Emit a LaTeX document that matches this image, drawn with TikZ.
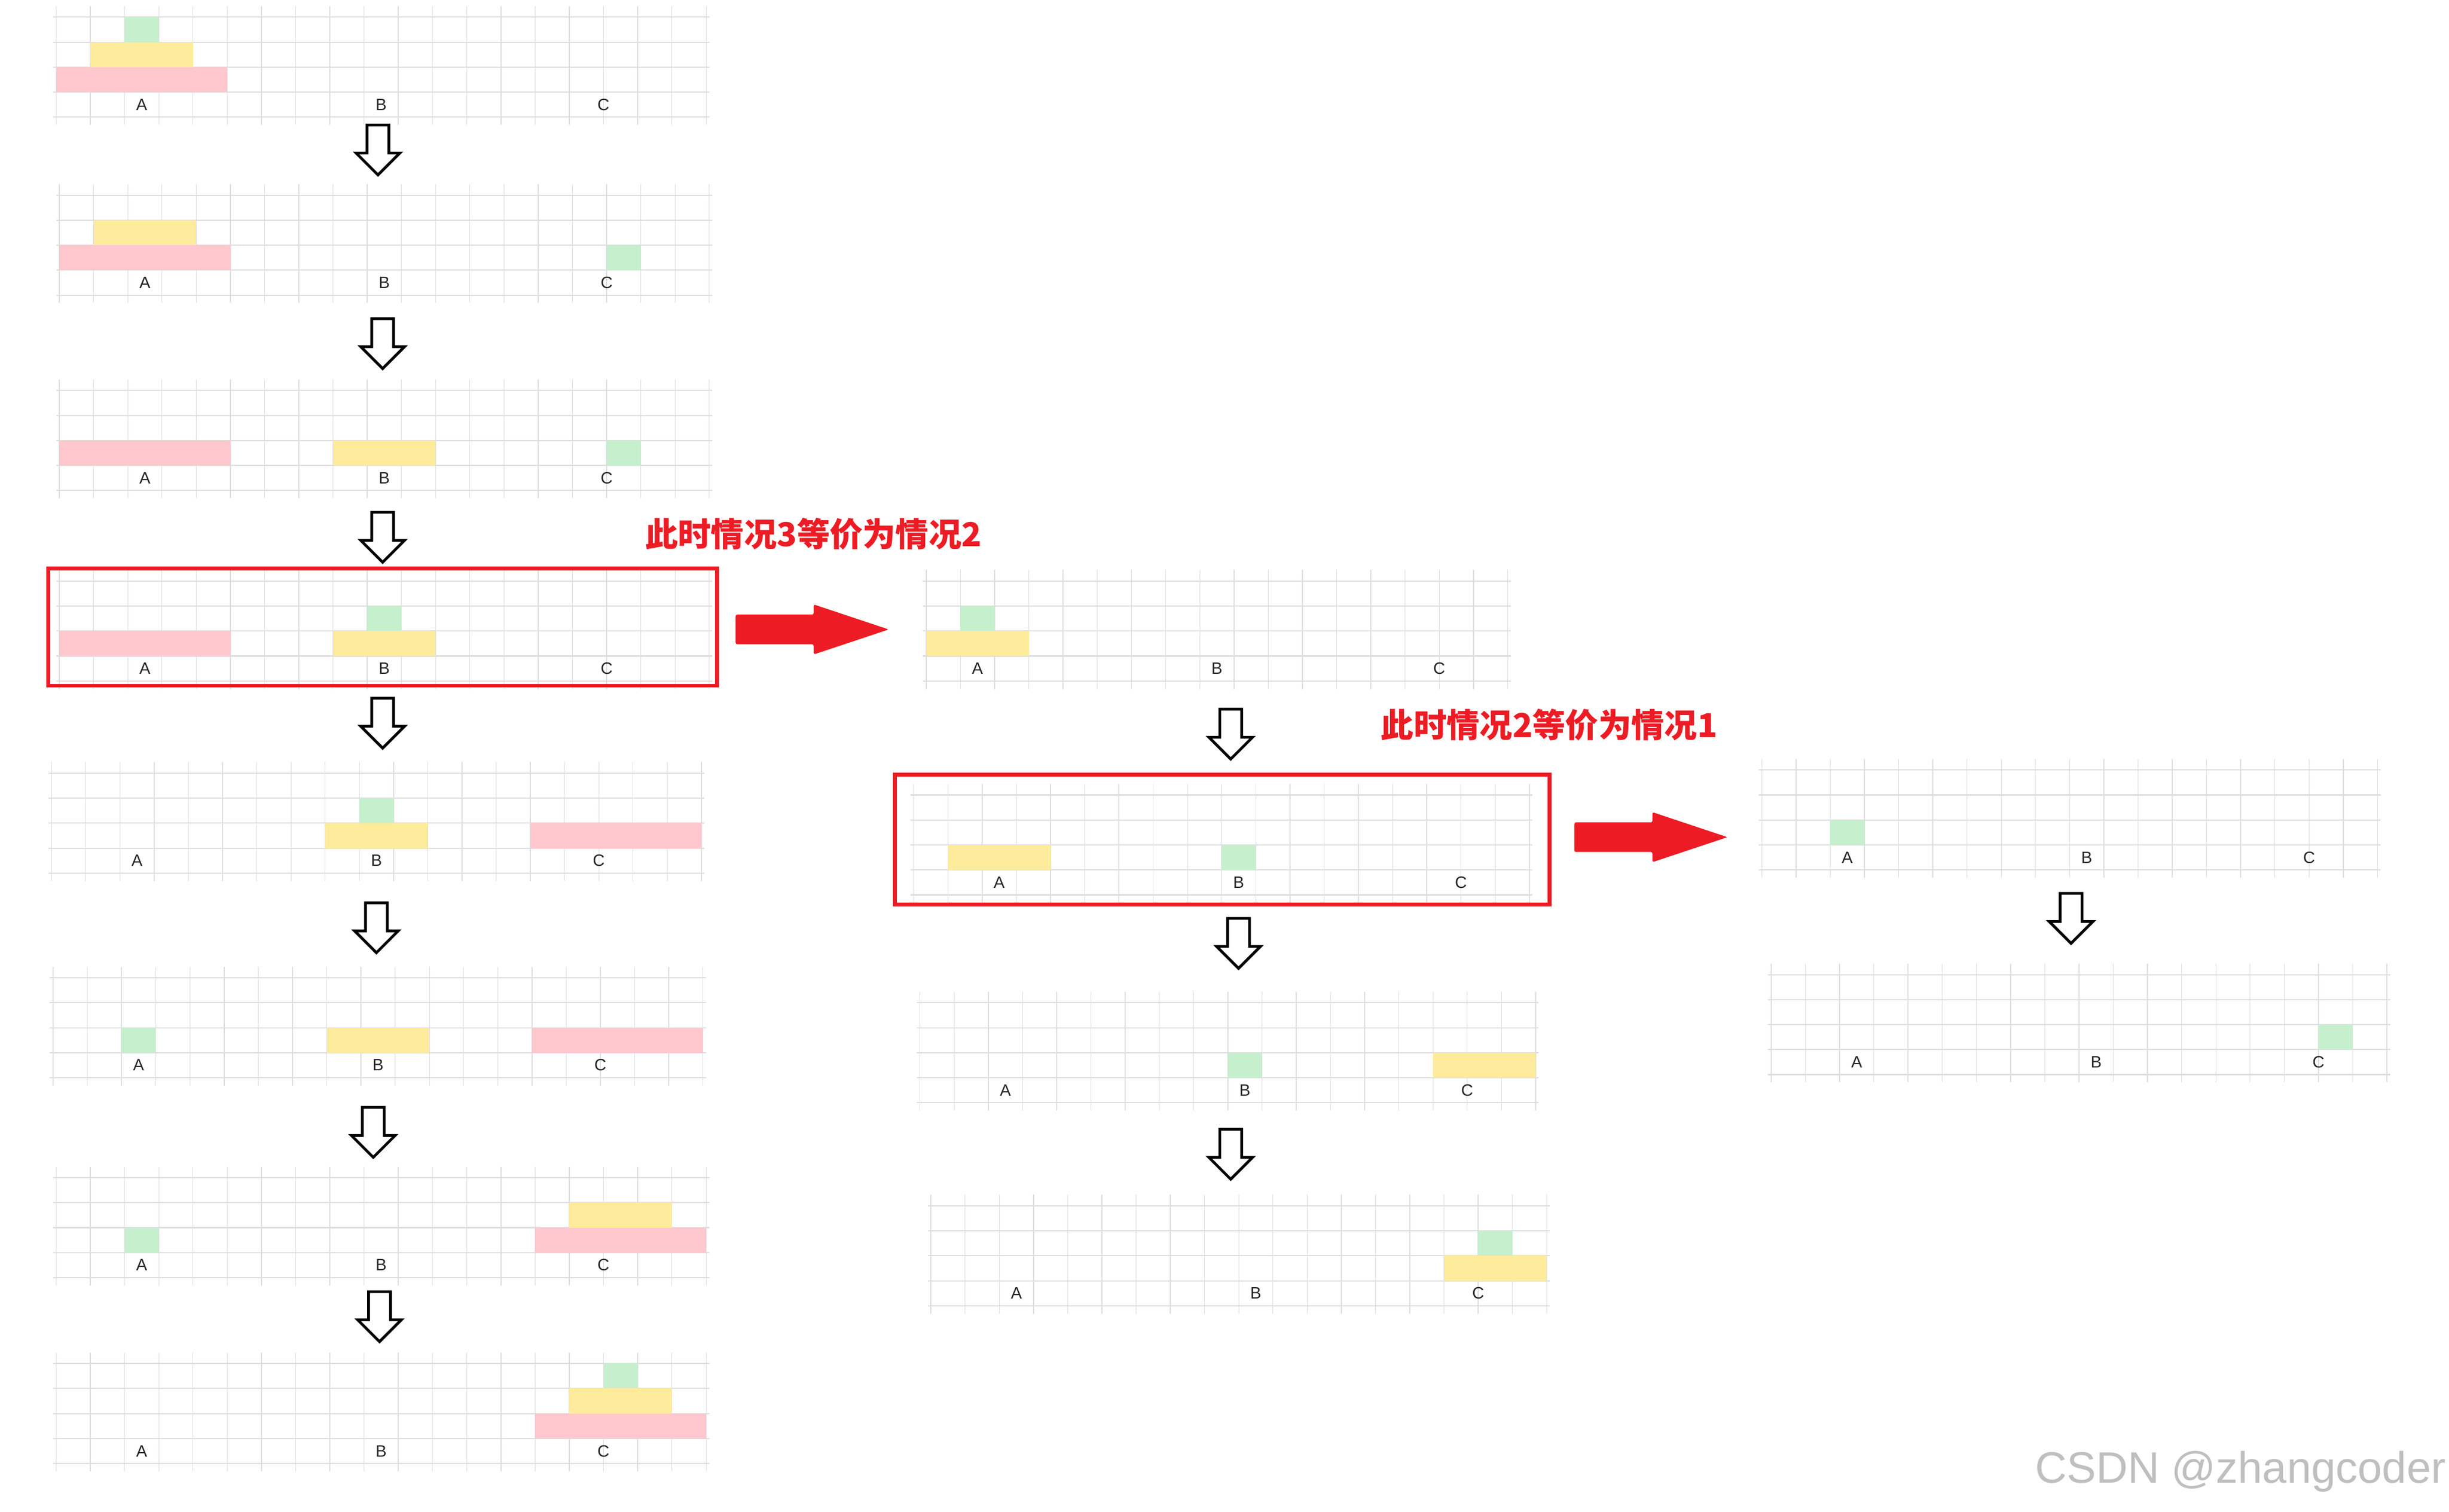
\documentclass[tikz,border=0pt]{standalone}
\usepackage{fontspec}
\setmainfont{Liberation Sans}
\newfontfamily\cjk{Noto Sans CJK SC}[BoldFont={* Black}]
\definecolor{dgreen}{HTML}{C6EFCE}
\definecolor{dyellow}{HTML}{FFEB9C}
\definecolor{dpink}{HTML}{FFC7CE}
\definecolor{gridc}{HTML}{DEDEDE}
\definecolor{hred}{HTML}{ED1C24}
\newcommand\hpanel[6]{%
  \foreach \i in {0,...,#3}{\draw[gridc,line width=1.4pt] ({#1+\i*21.9},{#2-7}) -- ({#1+\i*21.9},{#2+69});}
  \foreach \j in {0,1,2,3,4}{\draw[gridc,line width=2.2pt] ({#1-2},{#2+\j*16}) -- ({#1+#3*21.9+2},{#2+\j*16});}
  \node[lbl] at ({#1+#4*21.9},{#2+56}) {A};
  \node[lbl] at ({#1+#5*21.9},{#2+56}) {B};
  \node[lbl] at ({#1+#6*21.9},{#2+56}) {C};}
\newcommand\disk[6]{\fill[#6] ({#1+#3*21.9},{#2+#5*16}) rectangle ({#1+(#3+#4)*21.9},{#2+(#5+1)*16});}
\newcommand\darrow[2]{\draw[line width=5pt,fill=white,line join=miter] ({#1-7},#2) -- ({#1+7},#2) -- ({#1+7},{#2+18}) -- ({#1+14},{#2+18}) -- (#1,{#2+32}) -- ({#1-14},{#2+18}) -- ({#1-7},{#2+18}) -- cycle;}
\newcommand\rarrow[2]{\fill[hred,rounded corners=3pt] (#1,{#2-9.5}) -- ({#1+50},{#2-9.5}) -- ({#1+50},{#2-16}) -- ({#1+98},#2) -- ({#1+50},{#2+16}) -- ({#1+50},{#2+9.5}) -- (#1,{#2+9.5}) -- cycle;}
\tikzset{lbl/.style={font=\fontsize{30}{30}\selectfont, text=black!85, inner sep=0pt},
 note/.style={font=\cjk\bfseries\fontsize{60}{60}\selectfont, text=hred, inner sep=0pt},
 redbox/.style={draw=hred,line width=7pt}}
\begin{document}
\begin{tikzpicture}[x=1mm,y=-1mm]
\useasboundingbox[fill=white] (0,0) rectangle (1568,968);
% left column
\hpanel{36}{11}{19}{2.5}{9.5}{16.0}
\disk{36}{11}{2}{1}{0}{dgreen}\disk{36}{11}{1}{3}{1}{dyellow}\disk{36}{11}{0}{5}{2}{dpink}
\darrow{242}{80}
\hpanel{38}{125}{19}{2.5}{9.5}{16.0}
\disk{38}{125}{1}{3}{1}{dyellow}\disk{38}{125}{0}{5}{2}{dpink}\disk{38}{125}{16}{1}{2}{dgreen}
\darrow{245}{204}
\hpanel{38}{250}{19}{2.5}{9.5}{16.0}
\disk{38}{250}{0}{5}{2}{dpink}\disk{38}{250}{8}{3}{2}{dyellow}\disk{38}{250}{16}{1}{2}{dgreen}
\darrow{245}{328}
\hpanel{38}{372}{19}{2.5}{9.5}{16.0}
\disk{38}{372}{0}{5}{2}{dpink}\disk{38}{372}{8}{3}{2}{dyellow}\disk{38}{372}{9}{1}{1}{dgreen}
\draw[redbox] (31,364) rectangle (459,439);
\darrow{245}{447}
\hpanel{33}{495}{19}{2.5}{9.5}{16.0}
\disk{33}{495}{8}{3}{2}{dyellow}\disk{33}{495}{9}{1}{1}{dgreen}\disk{33}{495}{14}{5}{2}{dpink}
\darrow{241}{578}
\hpanel{34}{626}{19}{2.5}{9.5}{16.0}
\disk{34}{626}{2}{1}{2}{dgreen}\disk{34}{626}{8}{3}{2}{dyellow}\disk{34}{626}{14}{5}{2}{dpink}
\darrow{239}{709}
\hpanel{36}{754}{19}{2.5}{9.5}{16.0}
\disk{36}{754}{2}{1}{2}{dgreen}\disk{36}{754}{15}{3}{1}{dyellow}\disk{36}{754}{14}{5}{2}{dpink}
\darrow{243}{827}
\hpanel{36}{873}{19}{2.5}{9.5}{16.0}
\disk{36}{873}{16}{1}{0}{dgreen}\disk{36}{873}{15}{3}{1}{dyellow}\disk{36}{873}{14}{5}{2}{dpink}
% middle
\node[note,anchor=west] (n1) at (413,342) {此时情况3等价为情况2};
\rarrow{471}{403}
\hpanel{593}{372}{17}{1.5}{8.5}{15.0}
\disk{593}{372}{1}{1}{1}{dgreen}\disk{593}{372}{0}{3}{2}{dyellow}
\darrow{788}{454}
\node[note,anchor=west] (n2) at (884,464) {此时情况2等价为情况1};
\hpanel{585}{509}{18}{2.5}{9.5}{16.0}
\disk{585}{509}{1}{3}{2}{dyellow}\disk{585}{509}{9}{1}{2}{dgreen}
\draw[redbox] (573,496) rectangle (992,579);
\rarrow{1008}{536}
\darrow{793}{588}
\hpanel{589}{642}{18}{2.5}{9.5}{16.0}
\disk{589}{642}{9}{1}{2}{dgreen}\disk{589}{642}{15}{3}{2}{dyellow}
\darrow{788}{723}
\hpanel{596}{772}{18}{2.5}{9.5}{16.0}
\disk{596}{772}{16}{1}{1}{dgreen}\disk{596}{772}{15}{3}{2}{dyellow}
% right
\hpanel{1128}{493}{18}{2.5}{9.5}{16.0}
\disk{1128}{493}{2}{1}{2}{dgreen}
\darrow{1326}{572}
\hpanel{1134}{624}{18}{2.5}{9.5}{16.0}
\disk{1134}{624}{16}{1}{2}{dgreen}
\node[font=\fontsize{80}{80}\selectfont,text=black!25,anchor=east,inner sep=0pt] (wm) at (1566,942) {CSDN @zhangcoder};
\end{tikzpicture}
\end{document}
